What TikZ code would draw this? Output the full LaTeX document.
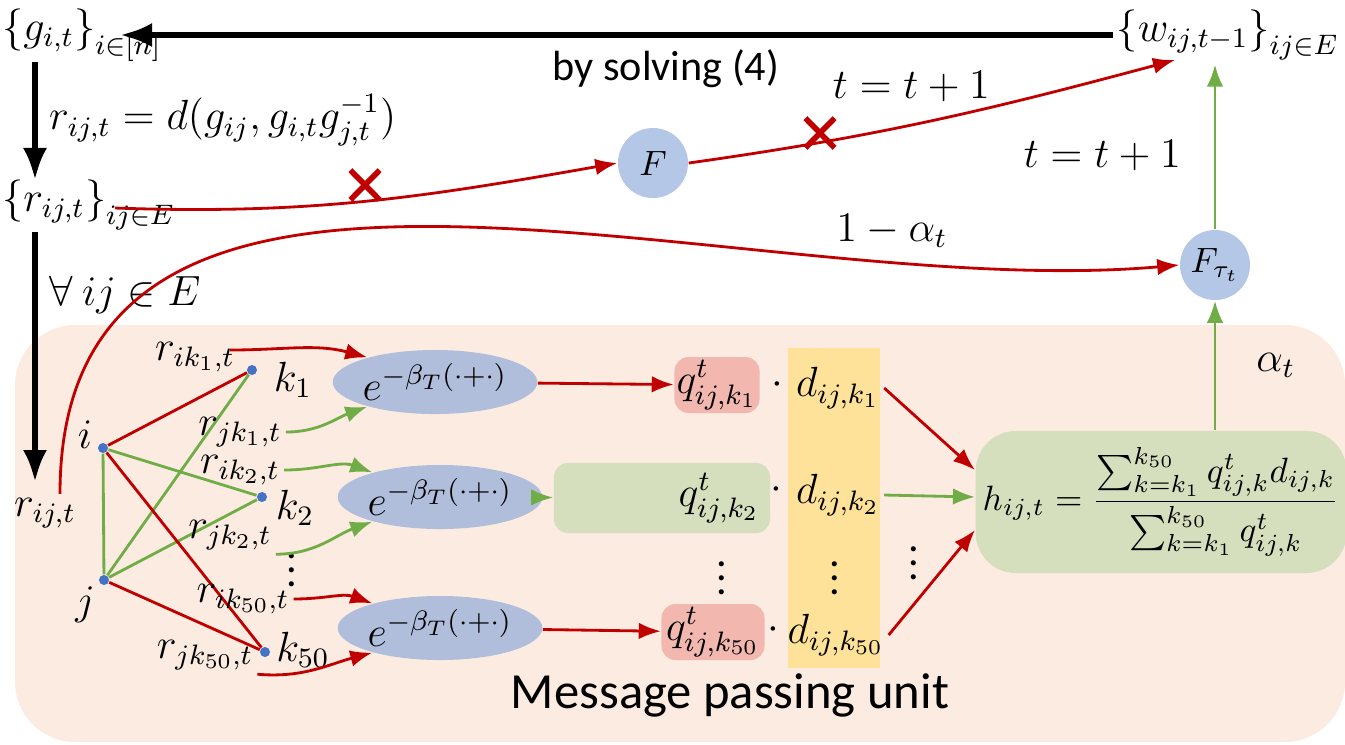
\documentclass[tikz,border=0pt]{standalone}
\usepackage{fontspec}
\setmainfont{Carlito}
\usepackage{amsmath}
\usetikzlibrary{arrows.meta,shapes.geometric,shapes.misc}
\definecolor{unitbg}{HTML}{FBEBE1}
\definecolor{circblue}{HTML}{B4C7E7}
\definecolor{ellblue}{HTML}{B0BEDC}
\definecolor{qpink}{HTML}{F2B8B0}
\definecolor{hgreen}{HTML}{D6DFBD}
\definecolor{dyellow}{HTML}{FFE29A}
\definecolor{lred}{HTML}{C00000}
\definecolor{lgreen}{HTML}{70AD47}
\definecolor{dotblue}{HTML}{4472C4}
\tikzset{
  redarr/.style = {draw=lred, thick, -{Latex[length=2.2mm]}},
  greenarr/.style = {draw=lgreen, thick, -{Latex[length=2.2mm]}},
  blackarr/.style = {draw=black, line width=1.6pt, -{Latex[length=3.2mm]}},
  redline/.style = {draw=lred, thick},
  greenline/.style = {draw=lgreen, thick},
  circ/.style = {circle, fill=circblue, minimum size=0.7cm, inner sep=0pt},
  expo/.style = {ellipse, fill=ellblue, minimum width=1.5cm, minimum height=0.64cm, inner sep=0pt},
  vert/.style = {circle, fill=dotblue, minimum size=0.1cm, inner sep=0pt},
  cross/.style = {cross out, draw=lred, line width=1.6pt, minimum width=0.12cm, minimum height=0.24cm},
  qbox/.style = {fill=qpink, rounded corners=4pt, inner sep=0pt},
  lbl/.style = {font=\large, inner sep=1pt}
}
\begin{document}
\begin{tikzpicture}[x=0.01cm, y=0.01cm]
\useasboundingbox (0,0) rectangle (1345,-744);
% message passing unit background
\fill[unitbg, rounded corners=0.6cm] (15,-325) rectangle (1345,-742);
\fill[dyellow] (788,-348) rectangle (880,-668);
\node[font=\Large] (mpu) at (730,-695) {Message passing unit};

% top row
\node[lbl, anchor=west] (g) at (-2,-35) {$\left\{g_{i,t}\right\}_{i\in[n]}$};
\node[lbl, anchor=east] (w) at (1343,-35) {$\left\{w_{ij,t-1}\right\}_{ij\in E}$};
\node[lbl, anchor=west] (r) at (-2,-205) {$\left\{r_{ij,t}\right\}_{ij\in E}$};
\draw[blackarr] (w.west) -- (g.east -| 120,0) node[pos=0.45, below, font=\large] {by solving (4)};
\draw[blackarr] (35,-62) coordinate (gs) -- (35,-180) coordinate (re);
\node[lbl, anchor=west] (dist) at (45,-120) {$r_{ij,t} = d(g_{ij},g_{i,t}g_{j,t}^{-1})$};
\draw[blackarr] (35,-232) coordinate (rs) -- (35,-482) coordinate (rb);
\node[lbl, anchor=west] (forall) at (45,-295) {$\forall\ ij\in E$};

% fixed point branch
\node[circ] (F) at (653,-163) {$F$};
\node[circ] (Ft) at (1215,-265) {$F_{\tau_t}$};
\coordinate (rout) at (115,-208);
\draw[redarr] (rout) to[out=-2, in=190] (F.west);
\node[cross] (x1) at (365,-185) {};
\coordinate (win) at (1175,-60);
\draw[redarr] (F.east) to[out=8, in=195] node[pos=0.45, above=3pt, font=\large] {$t=t+1$} (win);
\node[cross] (x2) at (820,-133) {};
\draw[greenarr] (Ft.north) -- (w.south -| Ft.north) node[pos=0.45, left=6pt, font=\large] {$t=t+1$};

% message passing graph
\node[lbl] (rij) at (45,-513) {$r_{ij,t}$};
\draw[redarr] (rij.north) ++(15,0) to[out=90, in=185] node[pos=0.8, above, font=\large] {$1-\alpha_t$} (Ft.west);
\node[vert] (i) at (103,-448) {};
\node[vert] (j) at (104,-580) {};
\node[vert] (k1) at (252,-370) {};
\node[vert] (k2) at (262,-497) {};
\node[vert] (k50) at (265,-652) {};
\node[lbl] (il) at (85,-435) {$i$};
\node[lbl] (jl) at (85,-605) {$j$};
\node[lbl] (k1l) at (293,-380) {$k_1$};
\node[lbl] (k2l) at (295,-508) {$k_2$};
\node[lbl] (k50l) at (303,-650) {$k_{50}$};
\draw[greenline] (i) -- (j);
\draw[greenline] (i) -- (k2);
\draw[greenline] (j) -- (k1);
\draw[greenline] (j) -- (k2);
\draw[redline] (i) -- (k1);
\draw[redline] (i) -- (k50);
\draw[redline] (j) -- (k50);

\node[expo] (e1) at (435,-382) {\large$e^{-\beta_T(\cdot+\cdot)}$};
\node[expo] (e2) at (440,-497) {\large$e^{-\beta_T(\cdot+\cdot)}$};
\node[expo] (e50) at (440,-628) {\large$e^{-\beta_T(\cdot+\cdot)}$};
\node[lbl] (rik1) at (195,-357) {$r_{ik_1,t}$};
\node[lbl] (rjk1) at (240,-432) {$r_{jk_1,t}$};
\node[lbl] (rik2) at (240,-470) {$r_{ik_2,t}$};
\node[lbl] (rjk2) at (230,-535) {$r_{jk_2,t}$};
\node[lbl] (kdots) at (292,-560) {$\vdots$};
\node[lbl] (rik50) at (243,-599) {$r_{ik_{50},t}$};
\node[lbl] (rjk50) at (205,-655) {$r_{jk_{50},t}$};
\draw[redarr] (230,-350) to[out=0, in=165] (e1.160);
\draw[greenarr] (rjk1.east) to[out=0, in=200] (e1.200);
\draw[greenarr] (rik2.east) to[out=0, in=160] (e2.160);
\draw[greenarr] (rjk2.south east) to[out=0, in=200] (e2.200);
\draw[redarr] (rik50.east) to[out=0, in=160] (e50.160);
\draw[redarr] (rjk50.south east) to[out=-5, in=195] (e50.200);

% weights times distances
\node[qbox, minimum width=0.85cm, minimum height=0.56cm] (q1) at (717,-385) {\large$q_{ij,k_1}^t$};
\node[fill=hgreen, rounded corners=4pt, minimum width=2.15cm, minimum height=0.65cm, inner sep=3pt, text width=1.95cm, align=right] (q2) at (662,-498) {\large$q_{ij,k_2}^t$};
\node[qbox, minimum width=1.03cm, minimum height=0.56cm] (q50) at (713,-632) {\large$q_{ij,k_{50}}^t$};
\draw[redarr] (e1) -- (q1);
\draw[greenarr] (e2) -- (q2);
\draw[redarr] (e50) -- (q50);
\node[lbl] (dot1) at (777,-385) {$\cdot$};
\node[lbl] (dot2) at (776,-490) {$\cdot$};
\node[lbl] (dot50) at (773,-630) {$\cdot$};
\node[lbl] (d1) at (838,-388) {$d_{ij,k_1}$};
\node[lbl] (d2) at (838,-495) {$d_{ij,k_2}$};
\node[lbl] (d50) at (836,-635) {$d_{ij,k_{50}}$};
\node[lbl] (qdots) at (722,-568) {$\vdots$};
\node[lbl] (ddots) at (835,-568) {$\vdots$};
\node[lbl] (hdots) at (914,-553) {$\vdots$};

% aggregation
\node[fill=hgreen, rounded corners=0.4cm, minimum width=3.6cm, minimum height=1.42cm, inner sep=2pt, anchor=west] (h) at (975,-502)
  {\normalsize$h_{ij,t}=\dfrac{\sum_{k=k_1}^{k_{50}} q_{ij,k}^t d_{ij,k}}{\sum_{k=k_1}^{k_{50}} q_{ij,k}^t}$};
\draw[redarr] (d1.east) -- (h.west |- 0,-470);
\draw[greenarr] (d2.east) -- (h.west |- 0,-497);
\draw[redarr] (d50.east) -- (h.west |- 0,-530);
\draw[greenarr] (h.north -| Ft.south) -- (Ft.south) node[pos=0.5, right=8pt, font=\large] {$\alpha_t$};
\end{tikzpicture}
\end{document}
